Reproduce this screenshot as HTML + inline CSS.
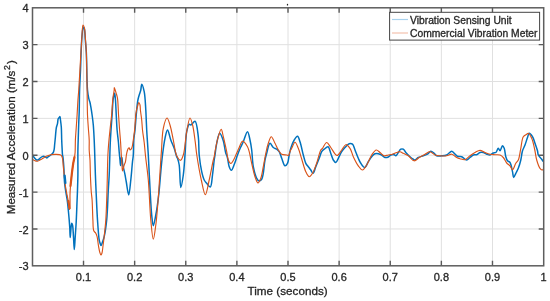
<!DOCTYPE html>
<html><head><meta charset="utf-8"><style>
html,body{margin:0;padding:0;background:#fff;}
svg{display:block;}
text{font-family:"Liberation Sans",Arial,sans-serif;fill:#262626;stroke:#262626;stroke-width:0.3px;}
</style></head><body>
<svg width="550" height="301" viewBox="0 0 550 301">
<rect width="550" height="301" fill="#fff"/>
<g stroke="#e0e0e0" stroke-width="1"><line x1="83.52" y1="7.8" x2="83.52" y2="265.8"/><line x1="134.64" y1="7.8" x2="134.64" y2="265.8"/><line x1="185.76" y1="7.8" x2="185.76" y2="265.8"/><line x1="236.88" y1="7.8" x2="236.88" y2="265.8"/><line x1="288.00" y1="7.8" x2="288.00" y2="265.8"/><line x1="339.12" y1="7.8" x2="339.12" y2="265.8"/><line x1="390.24" y1="7.8" x2="390.24" y2="265.8"/><line x1="441.36" y1="7.8" x2="441.36" y2="265.8"/><line x1="492.48" y1="7.8" x2="492.48" y2="265.8"/><line x1="32.5" y1="228.94" x2="543.7" y2="228.94"/><line x1="32.5" y1="192.09" x2="543.7" y2="192.09"/><line x1="32.5" y1="155.23" x2="543.7" y2="155.23"/><line x1="32.5" y1="118.37" x2="543.7" y2="118.37"/><line x1="32.5" y1="81.52" x2="543.7" y2="81.52"/><line x1="32.5" y1="44.66" x2="543.7" y2="44.66"/></g>
<path fill="none" stroke="#0072BD" stroke-width="1.5" stroke-linejoin="round" d="M32.50 155.00C32.50 155.00 33.54 156.70 34.20 157.50C34.92 158.37 35.89 159.72 36.70 160.00C37.25 160.19 37.75 160.05 38.30 159.80C39.10 159.43 39.92 158.10 40.80 157.50C41.60 156.96 42.53 156.38 43.30 156.30C43.91 156.23 44.46 156.46 45.00 156.70C45.59 156.97 46.14 157.91 46.70 157.90C47.24 157.89 47.70 157.13 48.30 156.70C49.04 156.17 50.00 155.66 50.80 155.00C51.67 154.28 52.73 153.48 53.30 152.50C53.86 151.54 53.99 150.38 54.20 149.20C54.44 147.89 54.44 146.62 54.60 145.00C54.82 142.76 55.13 139.76 55.40 137.00C55.69 134.04 55.83 130.26 56.30 127.80C56.62 126.11 57.19 125.07 57.50 123.60C57.83 122.04 57.75 119.77 58.20 118.70C58.46 118.08 58.87 117.77 59.20 117.40C59.47 117.09 59.80 116.53 60.00 116.60C60.32 116.71 60.25 118.31 60.40 119.50C60.65 121.42 61.09 124.15 61.30 127.00C61.58 130.74 61.55 136.15 61.70 140.00C61.82 143.08 61.96 145.68 62.10 148.30C62.23 150.65 62.28 153.51 62.50 155.00C62.61 155.76 62.77 155.89 62.90 156.70C63.21 158.64 63.58 163.52 63.80 166.70C64.00 169.59 64.07 172.23 64.20 175.00C64.33 177.77 64.32 180.43 64.60 183.30C64.90 186.41 65.54 190.13 66.00 193.00C66.37 195.30 66.76 196.84 67.10 199.20C67.55 202.30 67.94 206.47 68.30 210.00C68.64 213.40 68.94 216.82 69.20 220.00C69.43 222.89 69.64 225.46 69.80 228.30C69.97 231.29 70.01 237.50 70.20 237.50C70.36 237.50 70.56 233.09 70.80 230.80C71.05 228.37 71.24 223.37 71.70 223.30C71.93 223.26 72.27 224.15 72.50 225.00C73.08 227.16 73.20 232.96 73.50 237.00C73.80 241.12 74.02 249.50 74.30 249.50C74.58 249.50 74.90 241.36 75.20 237.00C75.53 232.23 75.91 227.48 76.20 222.00C76.56 215.37 76.86 205.91 77.10 200.00C77.26 196.02 77.38 193.67 77.50 190.00C77.65 185.51 77.82 180.64 77.90 175.00C78.00 167.73 77.79 156.98 77.90 150.00C77.98 144.96 78.16 141.43 78.30 137.00C78.44 132.37 78.59 127.21 78.75 122.80C78.89 118.95 79.07 116.23 79.20 112.00C79.38 105.96 79.37 97.16 79.60 90.00C79.82 83.17 80.23 76.67 80.50 70.00C80.77 63.33 80.91 56.19 81.20 50.00C81.45 44.64 81.66 39.21 82.10 35.00C82.42 31.91 82.71 27.11 83.30 27.00C83.61 26.94 84.11 28.02 84.40 29.00C85.05 31.15 84.99 36.25 85.30 40.00C85.62 43.91 86.01 46.87 86.30 52.00C86.82 61.11 86.77 81.94 87.50 90.00C87.84 93.78 88.24 96.01 88.75 98.30C89.12 99.95 89.66 101.09 90.00 102.50C90.34 103.89 90.52 105.06 90.80 106.70C91.20 109.00 91.70 112.10 92.10 115.00C92.54 118.17 92.97 121.32 93.30 125.00C93.70 129.49 93.98 135.50 94.20 140.00C94.38 143.67 94.45 145.92 94.60 150.00C94.83 156.46 95.11 167.13 95.40 175.00C95.66 182.04 95.92 187.96 96.25 195.00C96.61 202.87 96.97 212.14 97.50 220.00C97.98 227.04 98.55 236.29 99.20 240.00C99.45 241.46 99.69 242.05 100.00 243.00C100.29 243.88 100.63 245.50 101.00 245.50C101.44 245.51 102.01 243.30 102.50 242.00C103.09 240.43 103.67 238.99 104.20 236.70C105.13 232.71 106.05 226.39 106.70 220.00C107.56 211.47 107.83 198.28 108.30 190.00C108.63 184.14 108.92 181.05 109.20 175.00C109.64 165.77 109.85 150.68 110.40 140.00C110.86 130.96 111.58 122.50 112.10 115.00C112.53 108.87 112.66 102.22 113.30 98.30C113.66 96.12 114.26 93.28 114.60 93.30C114.97 93.32 115.17 96.75 115.40 99.20C115.78 103.19 115.96 109.80 116.25 115.00C116.53 120.07 116.71 125.28 117.10 130.00C117.45 134.23 118.04 138.18 118.40 142.00C118.73 145.48 118.92 148.85 119.20 152.00C119.45 154.82 119.77 157.58 120.00 160.00C120.19 162.00 120.32 165.50 120.50 165.50C120.71 165.50 120.67 159.00 121.20 158.00C121.37 157.68 121.63 157.43 121.80 157.50C122.30 157.70 122.27 162.10 122.60 164.00C122.86 165.50 123.17 166.55 123.50 168.00C123.89 169.73 124.37 171.62 124.80 173.70C125.31 176.20 125.74 178.92 126.30 182.00C127.00 185.85 127.97 195.02 128.70 195.00C129.48 194.98 130.19 185.26 130.80 180.00C131.47 174.21 132.01 166.30 132.50 161.70C132.80 158.91 133.10 157.68 133.30 155.00C133.60 151.00 133.40 144.49 133.75 140.00C134.03 136.32 134.61 133.72 135.00 130.00C135.48 125.34 135.80 119.32 136.30 114.20C136.77 109.34 137.25 103.51 137.90 100.00C138.29 97.89 138.72 96.66 139.20 95.00C139.68 93.33 140.39 91.75 140.80 90.00C141.24 88.15 141.21 84.24 141.70 84.20C142.27 84.15 143.56 88.61 144.20 91.70C145.18 96.42 145.46 104.81 145.80 110.00C146.05 113.83 146.10 116.67 146.25 120.00C146.40 123.33 146.51 126.48 146.70 130.00C146.91 133.94 147.23 138.33 147.50 142.50C147.77 146.67 148.00 149.83 148.30 155.00C148.79 163.43 149.40 177.81 150.00 188.30C150.54 197.69 150.97 208.09 151.70 215.00C152.17 219.41 152.62 225.77 153.30 225.80C153.98 225.83 155.02 219.17 155.80 215.00C156.86 209.37 157.89 201.93 158.70 195.00C159.58 187.54 160.12 178.82 160.80 171.70C161.38 165.67 161.80 160.56 162.50 155.00C163.20 149.43 163.97 142.87 165.00 138.30C165.73 135.02 166.59 130.01 167.50 130.00C168.50 129.99 169.63 136.84 170.80 140.00C171.88 142.92 173.21 145.50 174.20 148.30C175.18 151.07 176.03 155.02 176.70 156.70C177.00 157.46 177.23 157.56 177.50 158.30C178.04 159.75 178.73 162.08 179.20 165.00C180.05 170.27 179.94 187.45 180.80 187.50C181.45 187.54 182.64 179.67 183.30 175.00C184.13 169.13 184.45 161.92 185.00 155.00C185.59 147.53 185.59 137.27 186.70 131.70C187.35 128.46 188.17 124.63 189.20 124.20C189.69 124.00 190.17 125.08 190.80 125.00C191.91 124.86 193.88 120.93 195.00 121.30C196.88 121.92 197.60 131.32 198.30 136.70C199.06 142.51 198.61 149.05 199.20 155.00C199.77 160.71 200.67 167.13 201.70 171.70C202.43 174.98 203.15 177.93 204.20 180.00C204.93 181.43 205.75 182.20 206.70 183.30C207.76 184.53 209.38 187.28 210.30 187.00C211.71 186.57 211.87 179.23 212.50 175.00C213.20 170.29 213.70 163.66 214.20 160.00C214.49 157.88 214.69 157.02 215.00 155.00C215.47 151.92 215.88 147.02 216.70 143.30C217.47 139.81 218.52 133.39 219.70 133.30C220.76 133.22 222.36 137.98 223.30 140.80C224.40 144.10 224.67 148.87 225.50 152.00C226.12 154.33 226.92 155.79 227.50 158.00C228.19 160.61 228.36 164.48 229.20 166.70C229.77 168.22 230.56 170.33 231.30 170.30C232.26 170.27 233.43 166.32 234.40 164.00C235.52 161.30 236.44 157.85 237.50 155.00C238.48 152.37 239.48 149.82 240.50 147.50C241.41 145.43 242.30 143.91 243.30 141.70C244.59 138.83 246.35 131.64 247.50 131.70C248.53 131.75 249.32 137.08 250.00 140.00C250.74 143.16 251.20 146.23 251.70 150.00C252.34 154.85 252.33 161.68 253.30 166.70C254.12 170.96 255.46 175.92 256.70 178.30C257.34 179.53 257.88 180.63 258.70 180.80C259.54 180.97 260.86 180.36 261.70 179.20C263.71 176.41 263.99 164.74 265.00 160.00C265.60 157.18 265.99 155.74 266.70 153.30C267.58 150.29 268.64 143.54 270.00 143.30C270.97 143.13 272.07 146.50 273.30 147.50C274.34 148.35 275.70 148.48 276.70 149.20C277.66 149.89 278.47 150.57 279.20 151.70C280.23 153.30 280.78 156.04 281.70 158.30C282.70 160.73 283.80 165.57 285.00 165.80C285.79 165.95 286.85 164.51 287.50 163.30C288.51 161.43 288.62 157.61 289.20 155.00C289.72 152.64 290.05 150.62 290.80 148.30C291.65 145.65 292.87 142.13 294.20 140.00C295.19 138.42 296.56 136.16 297.50 136.30C298.53 136.45 299.21 139.45 300.00 141.70C301.20 145.11 302.23 151.10 303.30 155.00C304.15 158.10 304.75 161.21 305.80 163.30C306.53 164.76 307.46 165.58 308.30 166.70C309.13 167.81 310.01 168.89 310.80 170.00C311.57 171.09 312.28 173.37 313.00 173.30C313.96 173.21 314.83 169.04 315.80 166.70C316.89 164.07 318.17 160.94 319.20 158.30C320.11 155.97 320.67 153.30 321.70 151.70C322.43 150.57 323.23 149.99 324.20 149.20C325.30 148.31 326.95 146.38 328.00 146.70C329.38 147.13 330.08 151.68 331.00 154.00C331.83 156.09 332.33 158.50 333.30 160.00C334.02 161.11 335.02 162.60 335.80 162.50C336.71 162.39 337.43 159.87 338.30 158.30C339.37 156.36 340.48 153.60 341.70 151.70C342.74 150.09 343.77 148.82 345.00 147.50C346.26 146.14 347.78 144.13 349.20 143.70C350.29 143.37 351.61 143.51 352.50 144.20C353.73 145.15 354.12 147.89 355.00 150.00C356.04 152.51 357.23 155.90 358.30 158.30C359.15 160.20 359.74 161.77 360.80 163.30C361.87 164.84 363.50 167.62 364.70 167.50C366.01 167.37 367.10 163.55 368.30 161.70C369.43 159.96 370.48 158.08 371.70 156.70C372.74 155.52 373.81 154.27 375.00 153.80C376.03 153.39 377.21 153.52 378.30 153.70C379.44 153.89 380.62 154.40 381.70 155.00C382.86 155.64 383.83 157.20 385.00 157.50C386.05 157.77 387.33 157.43 388.30 157.00C389.25 156.58 389.84 155.39 390.80 155.00C391.79 154.60 393.31 154.47 394.20 154.70C394.87 154.88 395.25 155.89 395.80 155.80C396.60 155.67 397.47 153.60 398.30 152.50C399.13 151.40 399.83 149.68 400.80 149.20C401.55 148.83 402.55 148.83 403.30 149.20C404.27 149.68 404.81 151.37 405.80 152.50C406.98 153.86 408.64 155.52 410.00 156.70C411.13 157.69 412.35 158.63 413.30 159.20C413.94 159.59 414.36 160.07 415.00 160.00C415.95 159.90 417.02 158.18 418.30 157.50C419.74 156.73 421.71 156.37 423.30 155.80C424.77 155.27 426.24 154.96 427.50 154.20C428.74 153.45 429.65 151.41 430.80 151.30C431.89 151.20 433.20 152.52 434.20 153.30C435.15 154.04 435.61 155.35 436.70 155.80C438.00 156.34 440.04 155.93 441.70 155.80C443.37 155.67 445.11 155.67 446.70 155.00C448.46 154.26 450.33 151.27 451.70 151.30C452.68 151.32 453.39 152.57 454.20 153.30C455.06 154.07 455.81 155.27 456.70 155.80C457.43 156.24 458.19 156.35 459.00 156.50C459.86 156.66 460.71 156.36 461.70 156.70C463.17 157.20 465.22 160.05 466.70 160.00C467.93 159.96 468.90 158.33 470.00 157.50C471.10 156.67 472.12 155.45 473.30 155.00C474.37 154.59 475.62 155.08 476.70 154.70C477.86 154.29 478.84 152.85 480.00 152.50C481.05 152.18 482.22 152.25 483.30 152.50C484.46 152.77 485.55 153.78 486.70 154.20C487.79 154.60 488.93 155.17 490.00 155.00C491.14 154.82 492.24 153.41 493.30 153.00C494.16 152.67 495.06 153.02 495.80 152.50C496.82 151.78 497.53 148.32 498.30 148.30C498.91 148.28 499.41 150.84 500.00 150.80C500.80 150.75 501.70 145.85 502.50 145.80C503.09 145.76 503.73 147.16 504.20 148.30C505.00 150.22 505.12 154.42 505.80 156.70C506.29 158.34 506.69 159.81 507.50 160.80C508.17 161.62 509.30 161.52 510.00 162.50C511.25 164.25 511.85 168.98 512.50 171.70C513.01 173.85 513.10 177.42 513.70 177.50C514.24 177.57 515.07 174.76 515.80 173.30C516.60 171.71 517.54 170.21 518.30 168.30C519.25 165.92 520.11 162.86 520.80 160.00C521.52 157.03 521.69 153.47 522.50 150.80C523.17 148.60 524.21 147.08 525.00 145.00C525.89 142.68 526.71 139.63 527.50 137.50C528.09 135.89 528.38 133.46 529.20 133.30C530.04 133.14 531.59 135.27 532.50 136.70C533.61 138.45 534.19 141.02 535.00 143.30C535.86 145.71 536.94 148.64 537.50 150.80C537.91 152.39 537.68 153.67 538.30 155.00C538.99 156.49 540.80 157.96 541.70 159.20C542.36 160.12 543.30 161.70 543.30 161.70"/>
<path fill="none" stroke="#D95319" stroke-width="1.15" stroke-linejoin="round" d="M32.50 159.60C32.50 159.60 34.15 160.52 35.00 160.80C35.82 161.06 36.63 161.37 37.50 161.25C38.55 161.10 39.71 160.21 40.80 159.60C41.94 158.97 43.06 158.14 44.20 157.50C45.30 156.88 46.38 156.25 47.50 155.80C48.58 155.36 49.62 155.03 50.80 154.80C52.10 154.54 53.60 154.43 55.00 154.40C56.40 154.37 58.06 154.36 59.20 154.60C60.02 154.77 60.72 154.89 61.25 155.40C61.89 156.01 62.18 157.05 62.50 158.30C63.02 160.34 63.02 163.91 63.30 166.70C63.58 169.48 63.92 172.23 64.20 175.00C64.48 177.77 64.62 180.41 65.00 183.30C65.42 186.49 66.16 190.41 66.70 193.30C67.12 195.53 67.58 197.45 67.90 199.20C68.15 200.60 68.28 201.56 68.50 203.00C68.79 204.88 69.24 209.51 69.50 209.50C69.72 209.50 69.90 206.80 70.00 205.00C70.15 202.33 69.91 198.24 70.00 195.00C70.09 191.92 70.27 188.86 70.50 186.00C70.71 183.38 71.03 180.96 71.30 178.50C71.56 176.13 71.80 173.91 72.10 171.50C72.42 168.92 72.77 166.02 73.20 163.50C73.59 161.21 74.17 158.97 74.50 157.00C74.77 155.37 74.95 154.38 75.10 152.50C75.34 149.38 75.21 144.16 75.40 140.00C75.59 135.83 75.97 131.67 76.25 127.50C76.53 123.33 76.83 119.30 77.10 115.00C77.38 110.42 77.60 105.21 77.90 100.80C78.16 96.95 78.43 94.63 78.75 90.00C79.32 81.67 80.22 64.74 80.80 55.00C81.22 48.01 81.49 42.39 81.90 37.00C82.24 32.59 82.29 25.12 83.00 25.00C83.37 24.94 84.04 26.69 84.40 28.00C84.99 30.16 85.02 33.62 85.30 37.00C85.66 41.36 86.03 45.85 86.30 52.00C86.73 61.77 86.89 78.65 87.10 90.00C87.27 99.20 87.22 108.10 87.50 115.00C87.70 119.88 88.02 123.33 88.30 127.50C88.58 131.67 89.06 136.06 89.20 140.00C89.33 143.52 89.07 146.67 89.20 150.00C89.33 153.34 89.80 156.33 90.00 160.00C90.24 164.49 90.20 169.87 90.40 175.00C90.61 180.42 90.90 187.10 91.25 191.70C91.50 194.95 91.86 196.63 92.10 200.00C92.47 205.22 92.57 214.35 92.90 220.00C93.15 224.15 92.84 228.54 93.75 230.80C94.25 232.03 95.25 232.35 95.80 233.30C96.38 234.31 96.72 235.26 97.10 236.70C97.71 239.01 97.98 243.13 98.50 246.00C98.96 248.51 99.44 251.40 100.00 253.00C100.31 253.90 100.67 255.00 101.00 255.00C101.33 255.00 101.72 253.90 102.00 253.00C102.50 251.40 102.68 248.41 103.00 246.00C103.35 243.42 103.64 241.20 104.00 238.00C104.54 233.20 105.33 226.77 105.80 220.00C106.41 211.28 106.66 200.39 107.00 190.00C107.37 178.78 107.49 163.73 107.90 155.00C108.14 149.78 108.40 146.66 108.75 142.50C109.10 138.33 109.54 134.41 110.00 130.00C110.51 125.04 111.22 119.48 111.70 114.20C112.18 108.91 112.39 102.74 112.90 98.30C113.27 95.08 114.01 91.96 114.20 90.00C114.31 88.93 114.12 87.52 114.30 87.50C114.58 87.46 115.65 91.43 116.20 93.30C116.70 95.02 117.16 96.14 117.50 98.30C118.11 102.09 118.15 108.91 118.50 114.20C118.85 119.48 119.23 125.04 119.60 130.00C119.93 134.41 120.32 138.33 120.60 142.50C120.88 146.66 121.06 151.30 121.30 155.00C121.49 157.96 121.70 160.33 121.90 163.00C122.10 165.67 122.13 170.96 122.50 171.00C122.73 171.03 123.12 169.00 123.40 168.00C123.68 167.00 123.87 165.99 124.20 165.00C124.54 163.99 125.07 163.23 125.40 162.00C125.89 160.18 126.07 156.91 126.40 155.00C126.63 153.66 126.78 152.71 127.10 151.60C127.42 150.48 127.79 148.85 128.30 148.30C128.57 148.01 128.95 147.80 129.20 147.90C129.58 148.06 129.60 149.91 130.00 150.00C130.42 150.09 131.23 149.18 131.70 148.30C132.58 146.64 132.83 142.90 133.30 140.00C133.81 136.83 134.25 133.34 134.60 130.00C134.95 126.67 135.19 122.88 135.40 120.00C135.56 117.81 135.48 116.34 135.80 114.20C136.20 111.47 137.29 107.09 137.90 105.00C138.22 103.89 138.45 102.52 138.80 102.50C139.15 102.48 139.73 103.99 140.00 105.00C140.37 106.35 140.20 108.05 140.40 110.00C140.69 112.76 141.35 116.66 141.70 120.00C142.05 123.33 142.12 126.49 142.50 130.00C142.93 133.94 143.72 138.33 144.20 142.50C144.68 146.66 144.88 150.12 145.40 155.00C146.13 161.91 147.47 170.68 148.30 180.00C149.35 191.76 149.75 209.10 150.80 220.00C151.53 227.58 152.40 239.18 153.30 239.20C154.08 239.22 155.14 229.81 155.80 225.00C156.48 220.08 156.85 215.00 157.30 210.00C157.75 205.00 158.13 200.00 158.50 195.00C158.87 190.00 159.15 185.36 159.50 180.00C159.91 173.81 160.43 165.52 160.80 160.00C161.06 156.09 161.20 153.97 161.50 150.00C161.95 144.15 162.03 134.13 163.30 128.30C164.20 124.16 165.79 118.04 167.00 118.00C168.01 117.97 169.09 122.18 170.00 125.00C171.29 129.01 172.20 134.93 173.30 140.00C174.43 145.20 174.96 152.27 176.70 155.80C177.75 157.93 179.40 160.42 180.50 160.30C181.61 160.18 182.49 157.49 183.30 155.00C184.91 150.07 185.40 138.42 186.70 131.70C187.70 126.50 188.85 118.07 190.00 118.00C190.84 117.95 191.85 122.12 192.60 125.00C193.73 129.33 194.47 136.44 195.20 141.70C195.85 146.38 196.03 149.89 196.80 155.00C197.86 162.04 199.68 172.80 201.30 180.00C202.56 185.58 203.98 194.70 205.30 194.70C206.62 194.70 207.96 185.30 209.20 180.00C210.64 173.86 212.38 163.84 213.30 160.00C213.68 158.43 213.92 158.00 214.20 156.70C214.60 154.87 214.79 152.60 215.30 150.00C216.02 146.31 217.15 140.47 218.30 136.70C219.18 133.81 220.36 129.16 221.20 129.20C222.02 129.24 222.56 133.76 223.30 136.70C224.35 140.83 225.80 147.43 226.70 151.70C227.36 154.87 227.40 157.89 228.30 160.00C228.94 161.50 229.95 163.47 230.80 163.50C231.61 163.53 232.49 161.78 233.30 160.50C234.45 158.67 235.57 155.57 236.60 153.30C237.52 151.26 238.25 149.46 239.20 147.50C240.21 145.43 241.14 141.37 242.50 141.20C243.89 141.02 246.37 144.79 247.50 146.70C248.45 148.31 248.64 149.67 249.20 151.70C250.04 154.75 250.78 159.30 251.70 163.30C252.70 167.61 253.72 173.12 255.00 176.70C255.91 179.25 256.97 182.95 258.00 183.00C258.91 183.04 260.02 180.29 260.80 178.30C261.96 175.36 262.49 170.71 263.30 166.70C264.16 162.40 264.90 157.43 265.80 153.30C266.58 149.71 267.27 146.25 268.30 143.30C269.16 140.83 270.20 136.75 271.30 136.70C272.43 136.65 273.83 141.08 275.00 143.30C276.16 145.51 277.07 148.08 278.30 150.00C279.34 151.63 280.27 153.37 281.70 154.20C283.09 155.00 285.46 154.73 286.70 155.00C287.46 155.16 288.01 155.75 288.50 155.50C289.23 155.14 289.46 152.92 290.00 151.70C290.53 150.52 291.03 149.59 291.70 148.30C292.61 146.56 293.90 142.20 295.00 142.20C296.10 142.20 297.29 145.93 298.30 148.30C299.58 151.32 300.51 155.28 301.70 159.00C303.00 163.05 304.24 168.52 305.80 171.70C306.85 173.84 308.01 176.60 309.20 176.70C310.25 176.79 311.47 174.87 312.50 173.30C314.07 170.89 315.38 166.66 316.70 163.00C318.16 158.95 319.45 152.23 320.80 150.00C321.37 149.06 321.84 149.07 322.50 148.30C323.63 146.97 325.28 142.54 326.70 142.50C328.05 142.46 329.31 145.63 330.80 147.50C332.67 149.84 335.05 155.45 337.00 155.50C338.65 155.54 340.21 151.83 341.70 150.00C343.14 148.23 344.34 144.85 345.80 144.70C347.12 144.56 348.84 146.66 350.00 148.30C351.49 150.39 351.98 153.89 353.30 156.70C354.71 159.72 356.53 163.44 358.30 165.80C359.64 167.59 361.13 170.06 362.50 170.00C363.93 169.94 365.35 167.05 366.70 165.00C368.46 162.32 369.86 157.66 371.70 155.00C373.13 152.93 374.77 150.18 376.30 150.00C377.54 149.86 378.74 151.58 380.00 152.50C381.37 153.50 382.72 155.44 384.20 155.80C385.51 156.12 386.92 155.27 388.30 155.00C389.69 154.73 391.12 154.61 392.50 154.20C393.92 153.78 395.37 152.93 396.70 152.50C397.85 152.13 398.92 151.58 400.00 151.70C401.12 151.82 402.09 152.70 403.30 153.30C404.80 154.04 406.63 154.70 408.30 155.80C410.26 157.10 412.27 160.68 414.20 160.80C415.90 160.90 417.45 158.57 419.20 157.50C421.04 156.37 423.13 155.20 425.00 154.20C426.72 153.28 428.36 151.60 430.00 151.70C431.70 151.80 433.26 154.32 435.00 155.00C436.60 155.62 438.21 155.66 440.00 155.80C442.06 155.96 444.65 156.12 446.70 155.80C448.51 155.52 450.08 153.98 451.70 154.20C453.43 154.44 455.16 156.73 456.70 157.50C457.88 158.09 458.77 158.36 460.00 158.70C461.48 159.11 463.41 160.08 465.00 159.70C466.77 159.28 468.31 157.01 470.00 155.80C471.64 154.62 473.29 153.43 475.00 152.50C476.63 151.61 478.33 150.30 480.00 150.30C481.67 150.30 483.32 151.85 485.00 152.50C486.65 153.14 488.31 153.83 490.00 154.20C491.65 154.56 493.33 154.57 495.00 154.70C496.67 154.83 498.57 154.47 500.00 155.00C501.30 155.48 502.29 156.39 503.30 157.50C504.57 158.89 505.45 161.55 506.70 163.00C507.72 164.19 509.04 164.71 510.00 165.80C510.99 166.93 511.64 169.74 512.50 169.70C513.57 169.65 514.70 165.05 515.80 163.30C516.63 161.98 517.59 161.54 518.30 160.00C519.50 157.38 519.96 152.19 520.80 148.30C521.63 144.42 521.80 139.02 523.30 136.70C524.20 135.32 525.76 134.81 526.70 134.20C527.32 133.80 527.73 133.17 528.30 133.30C529.33 133.54 530.74 136.22 531.70 138.30C532.99 141.11 533.77 145.39 534.60 149.00C535.44 152.63 535.72 156.63 536.70 160.00C537.58 163.01 538.69 166.67 540.00 168.30C540.76 169.25 541.92 170.09 542.50 170.00C542.88 169.94 543.30 169.00 543.30 169.00"/>
<g fill="none" stroke-linecap="round" stroke-width="2.2">
<path stroke="#0072BD" d="M64.7 175.5L65.4 183"/>
<path stroke="#D95319" d="M68.4 201L69.6 208.5M70.5 186L72.1 171.5L73.2 163.5L74.5 157"/>
</g>
<path fill="none" stroke="#5a5a5a" stroke-width="1.4" d="M83.52 265.8V260.8M83.52 7.8V12.8M134.64 265.8V260.8M134.64 7.8V12.8M185.76 265.8V260.8M185.76 7.8V12.8M236.88 265.8V260.8M236.88 7.8V12.8M288.00 265.8V260.8M288.00 7.8V12.8M339.12 265.8V260.8M339.12 7.8V12.8M390.24 265.8V260.8M390.24 7.8V12.8M441.36 265.8V260.8M441.36 7.8V12.8M492.48 265.8V260.8M492.48 7.8V12.8M32.5 228.94H37.5M543.7 228.94H538.7M32.5 192.09H37.5M543.7 192.09H538.7M32.5 155.23H37.5M543.7 155.23H538.7M32.5 118.37H37.5M543.7 118.37H538.7M32.5 81.52H37.5M543.7 81.52H538.7M32.5 44.66H37.5M543.7 44.66H538.7"/>
<rect x="32.5" y="7.8" width="511.20000000000005" height="258.0" fill="none" stroke="#5e5e5e" stroke-width="1.5"/>
<ellipse cx="287.5" cy="4.7" rx="0.7" ry="0.9" fill="#222"/>
<g font-size="11"><text x="83.52" y="281.3" text-anchor="middle">0.1</text><text x="134.64" y="281.3" text-anchor="middle">0.2</text><text x="185.76" y="281.3" text-anchor="middle">0.3</text><text x="236.88" y="281.3" text-anchor="middle">0.4</text><text x="288.00" y="281.3" text-anchor="middle">0.5</text><text x="339.12" y="281.3" text-anchor="middle">0.6</text><text x="390.24" y="281.3" text-anchor="middle">0.7</text><text x="441.36" y="281.3" text-anchor="middle">0.8</text><text x="492.48" y="281.3" text-anchor="middle">0.9</text><text x="543.60" y="281.3" text-anchor="middle">1</text><text x="28.5" y="270.40" text-anchor="end">-3</text><text x="28.5" y="233.54" text-anchor="end">-2</text><text x="28.5" y="196.69" text-anchor="end">-1</text><text x="28.5" y="159.83" text-anchor="end">0</text><text x="28.5" y="122.97" text-anchor="end">1</text><text x="28.5" y="86.12" text-anchor="end">2</text><text x="28.5" y="49.26" text-anchor="end">3</text><text x="28.5" y="12.40" text-anchor="end">4</text></g>
<text x="287.6" y="295.2" font-size="11.7" text-anchor="middle">Time (seconds)</text>
<text transform="translate(15.3,137.2) rotate(-90)" font-size="11.6" text-anchor="middle">Measured Acceleration (m/s<tspan dx="0.7" dy="-5.2" font-size="8.8">2</tspan><tspan dx="1" dy="5.2">)</tspan></text>
<rect x="389.6" y="12.3" width="150" height="27.8" fill="#fff" stroke="#444" stroke-width="1"/>
<line x1="392" y1="19.5" x2="408" y2="19.5" stroke="#a9d2ee" stroke-width="1.2"/>
<line x1="392" y1="33" x2="408" y2="33" stroke="#f3c2ad" stroke-width="1.2"/>
<g font-size="10.3"><text x="410" y="23.9">Vibration Sensing Unit</text><text x="410" y="37.2">Commercial Vibration Meter</text></g>
</svg>
</body></html>
